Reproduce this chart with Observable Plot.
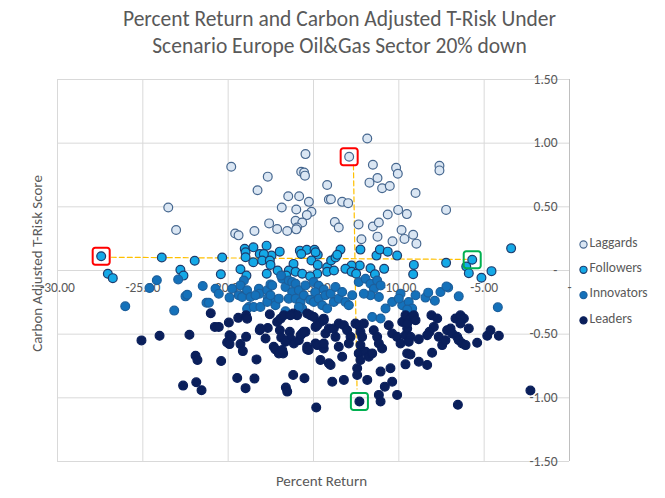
<!DOCTYPE html>
<html><head><meta charset="utf-8">
<script src="https://cdn.jsdelivr.net/npm/d3@7"></script>
<script src="https://cdn.jsdelivr.net/npm/@observablehq/plot@0.6"></script>
<style>html,body{margin:0;padding:0;background:#fff}#chart{width:665px;height:498px}</style>
</head><body><div id="chart"></div>
<script>
const titleLines = ["Percent Return and Carbon Adjusted T-Risk Under", "Scenario Europe Oil&Gas Sector 20% down"];
const xTitle = "Percent Return";
const yTitle = "Carbon Adjusted T-Risk Score";
const categories = ["Laggards", "Followers", "Innovators", "Leaders"];
const xTicks = [-30, -25, -20, -15, -10, -5, 0];
const yTicks = [-1.5, -1, -0.5, 0, 0.5, 1, 1.5];

const laggards = [
[-19.82,0.815],[-15.47,0.914],[-15.72,0.775],[-15.55,0.77],[-15.5,0.745],[-17.68,0.737],[-18.28,0.63],[-16.48,0.583],[-15.84,0.583],[-14.2,0.672],[-14.1,0.557],[-16.86,0.495],[-16.01,0.479],[-15.27,0.539],[-15.12,0.461],[-15.39,0.435],[-16.05,0.39],[-15.66,0.377],[-15.96,0.338],[-16.01,0.323],[-17.6,0.37],[-17.13,0.326],[-16.54,0.31],[-18.46,0.31],[-19.59,0.291],[-19.39,0.276],[-23.51,0.495],[-23.05,0.318],
[-11.85,1.037],[-12.91,0.893],[-11.52,0.83],[-10.16,0.807],[-10.06,0.76],[-11.25,0.727],[-11.72,0.69],[-10.98,0.646],[-10.53,0.664],[-13.98,0.56],[-13.32,0.539],[-12.97,0.529],[-10.65,0.44],[-10.04,0.476],[-9.53,0.443],[-13.75,0.38],[-13.52,0.338],[-12.36,0.362],[-11.52,0.346],[-11.17,0.377],[-9.84,0.318],[-11.25,0.266],[-12.19,0.245],[-10.37,0.229],[-9.67,0.248],[-7.62,0.823],[-7.62,0.786],[-9.02,0.609],[-7.23,0.476],[-9.16,0.281],[-8.97,0.211]
];
const followers = [
[-27.44,0.112],[-27.05,-0.026],[-26.76,-0.06],[-23.89,0.102],[-22.8,0.005],[-22.62,-0.04],[-21.96,0.076],[-20.35,0.102],[-20.43,-0.03],[-19.28,0.01],[-18.93,-0.04],[-19.03,0.17],[-18.98,0.143],[-18.98,0.104],[-18.52,0.182],[-17.75,0.195],[-18.15,0.13],[-17.46,0.117],[-16.98,0.148],[-17.91,0.13],[-18.53,0.065],[-18.01,0.078],[-17.56,0.078],[-17.52,0.044],[-17.74,-0.026],[-15.8,0.156],[-15.39,0.162],[-15.72,0.13],[-14.94,0.162],[-14.75,0.123],[-14.88,0.143],[-15.12,0.078],[-16.17,0.052],[-14.75,0.044],[-14.2,0.026],[-16.45,0.0],[-16.05,-0.01],[-15.66,-0.026],[-14.78,-0.026],[-14.2,-0.01],[-16.6,-0.04],[-15.2,-0.045],[-13.97,0.078],[-13.71,0.102],[-13.42,0.164],[-13.61,0.123],[-12.25,0.164],[-12.29,0.039],[-12.77,0.039],[-13.13,0.013],[-12.77,-0.01],[-13.8,0.0],[-11.31,0.117],[-11.11,0.164],[-10.65,0.148],[-10.1,0.117],[-11.66,0.018],[-10.86,0.013],[-9.12,0.044],[-9.16,-0.029],[-7.23,0.06],[-6.05,0.031],[-5.9,-0.021],[-5.7,0.084],[-4.57,-0.005],[-5.16,-0.057],[-3.42,0.174],[-12.5,-0.025],[-11.4,-0.03],[-17.1,0.0]
];
const innovators = [
[-24.18,-0.076],[-22.93,-0.07],[-24.61,-0.138],[-26.03,-0.281],[-23.16,-0.315],[-22.5,-0.203],[-22.4,-0.19],[-21.49,-0.122],[-20.74,-0.143],[-20.55,-0.182],[-19.92,-0.213],[-19.76,-0.143],[-21.27,-0.253],[-21.13,-0.253],[-19.38,-0.195],[-19.18,-0.208],[-19.08,-0.078],[-19.28,-0.117],[-18.79,-0.286],
[-18.89,-0.156],[-18.69,-0.208],[-18.2,-0.143],[-18.16,-0.182],[-17.71,-0.156],[-17.67,-0.221],[-17.23,-0.234],[-17.52,-0.109],[-16.64,-0.32],
[-18.4,-0.195],[-18.89,-0.3],[-18.5,-0.286],[-18.11,-0.286],[-17.71,-0.247],[-17.52,-0.195],[-17.42,-0.117],[-17.23,-0.273],[-17.03,-0.221],
[-16.83,-0.065],[-16.64,-0.13],[-16.45,-0.078],[-16.25,-0.091],[-16.05,-0.104],[-16.25,-0.169],[-16.45,-0.221],[-16.05,-0.221],[-15.86,-0.156],[-15.76,-0.247],[-15.57,-0.195],[-15.66,-0.299],[-15.47,-0.117],[-15.86,-0.286],
[-16.9,-0.04],[-15.0,-0.09],[-14.7,-0.12],[-14.4,-0.15],[-14.9,-0.17],[-15.2,-0.23],
[-14.98,-0.247],[-14.69,-0.221],[-14.49,-0.273],[-14.3,-0.195],[-14.2,-0.299],[-14.0,-0.182],[-13.81,-0.247],[-13.71,-0.13],[-13.52,-0.221],[-13.32,-0.169],[-13.13,-0.247],[-12.93,-0.273],[-12.73,-0.195],
[-12.35,-0.091],[-11.95,-0.065],[-11.66,-0.104],[-11.46,-0.143],[-11.27,-0.078],[-11.07,-0.117],[-11.66,-0.195],[-12.05,-0.182],[-11.17,-0.208],[-11.56,-0.365],[-11.07,-0.377],[-10.78,-0.299],[-10.39,-0.247],[-9.9,-0.182],[-9.8,-0.273],[-10.0,-0.221],[-9.42,-0.247],
[-9.02,-0.195],[-8.44,-0.213],[-8.28,-0.174],[-7.89,-0.237],[-7.56,-0.169],[-7.11,-0.133],[-6.49,-0.203],[-9.22,-0.299],[-9.51,-0.307],[-4.2,-0.289],[-7.21,-0.125]
];
const leaders = [
[-25.08,-0.549],[-24.02,-0.513],[-22.27,-0.505],[-21.91,-0.669],[-21.8,-0.703],[-22.64,-0.904],[-21.87,-0.878],[-21.56,-0.94],[-21.02,-0.336],[-20.78,-0.443],[-20.55,-0.443],[-20.41,-0.711],[-19.96,-0.409],[-19.92,-0.508],[-19.8,-0.521],[-20.06,-0.565],[-19.92,-0.578],[-19.41,-0.372],[-18.95,-0.352],[-18.89,-0.378],[-18.95,-0.521],[-19.28,-0.578],[-19.14,-0.633],[-19.47,-0.844],[-18.98,-0.924],[-18.46,-0.849],[-18.34,-0.698],[-18.15,-0.469],[-17.68,-0.451],[-17.81,-0.534],[-17.56,-0.344],[-17.13,-0.404],[-16.93,-0.378],[-16.74,-0.352],[-16.97,-0.469],[-16.89,-0.526],[-17.33,-0.599],[-17.23,-0.62],[-16.78,-0.651],[-16.39,-0.482],[-16.35,-0.534],[-16.15,-0.573],[-16.19,-0.82],[-15.53,-0.846],[-16.62,-0.919],[-16.54,-0.951],[-16.19,-0.338],[-15.96,-0.352],[-15.37,-0.338],[-15.18,-0.352],[-15.86,-0.547],[-15.66,-0.495],[-15.47,-0.482],[-15.37,-0.599],[-15.37,-0.62],[-14.88,-0.573],[-14.78,-0.586],[-14.4,-0.612],[-14.59,-0.703],[-14.1,-0.729],[-14.84,-1.076],[-14.98,-0.365],[-14.88,-0.443],[-14.59,-0.404],[-14.4,-0.378],[-14.3,-0.495],[-14.1,-0.456],
[-18.11,-0.456],[-17.03,-0.651],[-16.83,-0.625],[-16.64,-0.56],[-16.35,-0.352],[-15.76,-0.508],[-15.57,-0.482],[-15.28,-0.625],[-14.78,-0.43],[-14.4,-0.391],[-14.4,-0.573],[-14.0,-0.742],[-13.9,-0.873],[-13.22,-0.859],[-13.32,-0.677],[-13.52,-0.599],[-13.71,-0.521],[-13.81,-0.456],[-13.52,-0.417],[-13.22,-0.43],[-13.03,-0.469],[-12.83,-0.521],[-12.93,-0.573],
[-12.54,-0.417],[-12.35,-0.43],[-12.25,-0.482],[-12.05,-0.417],[-12.15,-0.521],[-12.25,-0.586],[-12.35,-0.651],[-12.25,-0.703],[-12.44,-0.768],[-12.44,-0.82],[-11.95,-0.638],[-11.76,-0.677],[-11.56,-0.651],[-11.85,-0.859],[-12.31,-1.029],
[-11.47,-0.469],[-11.27,-0.521],[-11.17,-0.573],[-10.98,-0.612],[-11.07,-0.794],[-11.17,-0.977],[-11.07,-1.029],[-10.49,-0.768],[-10.39,-0.873],[-10.1,-0.977],[-10.59,-0.43],[-10.39,-0.495],[-10.1,-0.521],[-9.9,-0.573],[-9.61,-0.508],[-9.51,-0.456],[-9.8,-0.404],[-10.82,-0.912],
[-9.61,-0.352],[-9.32,-0.377],[-9.12,-0.352],[-9.02,-0.391],[-9.51,-0.416],[-9.32,-0.521],[-9.42,-0.56],[-8.83,-0.539],[-9.51,-0.651],[-9.32,-0.659],[-9.61,-0.737],[-8.83,-0.716],[-8.34,-0.742],[-8.05,-0.646],
[-8.09,-0.352],[-7.75,-0.377],[-7.95,-0.443],[-8.2,-0.482],[-8.34,-0.508],[-7.66,-0.521],[-7.46,-0.586],[-7.27,-0.547],[-7.17,-0.469],[-6.97,-0.456],[-6.87,-0.495],[-6.68,-0.377],[-6.39,-0.352],[-6.19,-0.377],[-6.39,-0.416],[-5.9,-0.456],[-6.58,-0.521],[-6.49,-0.547],[-6.29,-0.573],[-6.09,-0.586],[-5.41,-0.568],[-4.82,-0.513],[-4.63,-0.469],[-4.14,-0.513],[-6.54,-1.055],[-2.29,-0.943]
];
// highlighted extreme points and the dashed guides joining them
const redMarked = [[-27.44,0.112],[-12.91,0.893]];
const greenMarked = [[-5.7,0.084],[-12.31,-1.029]];
const guideH = [[-26.85,0.104],[-6.05,0.087]];
const guideV = [[-12.66,0.83],[-12.45,-0.93]];

const seriesData = [laggards, followers, innovators, leaders];
const fills = ["#dae6f3", "#14a9e7", "#1471ba", "#0a1f5b"];
const strokes = ["#46678f", "#1d3b6c", "#1c5f9c", "#0a1f5b"];
const FONT = "Carlito, Calibri, Lato, 'Open Sans', sans-serif";
const GREY = "#595959";
const fmt = d => d === 0 ? "-" : d.toFixed(2);

const roundedSquare = {
  draw(ctx, size) {
    const s = Math.sqrt(size) / 2, r = 2.5;
    ctx.moveTo(-s + r, -s);
    ctx.lineTo(s - r, -s); ctx.arcTo(s, -s, s, -s + r, r);
    ctx.lineTo(s, s - r); ctx.arcTo(s, s, s - r, s, r);
    ctx.lineTo(-s + r, s); ctx.arcTo(-s, s, -s, s - r, r);
    ctx.lineTo(-s, -s + r); ctx.arcTo(-s, -s, -s + r, -s, r);
    ctx.closePath();
  }
};

const marks = [
  Plot.ruleX(xTicks, {stroke: "#d9d9d9", strokeWidth: 1}),
  Plot.ruleY(yTicks, {stroke: "#d9d9d9", strokeWidth: 1}),
  Plot.ruleX([0], {stroke: "#bfbfbf", strokeWidth: 1}),
  Plot.text(xTicks, {x: d => d, y: 0, text: fmt, dy: 17, fill: GREY, fontSize: 13.5, textAnchor: "middle"}),
  Plot.text(yTicks, {x: 0, y: d => d, text: fmt, dx: -12, fill: GREY, fontSize: 13.5, textAnchor: "end"}),
  Plot.line(guideH, {x: d => d[0], y: d => d[1], stroke: "#ffc000", strokeWidth: 1.2, strokeDasharray: "5,3"}),
  Plot.line(guideV, {x: d => d[0], y: d => d[1], stroke: "#ffc000", strokeWidth: 1.2, strokeDasharray: "5,3"}),
];
seriesData.forEach((arr, i) => {
  marks.push(Plot.dot(arr, {x: d => d[0], y: d => d[1], r: 4.4, fill: fills[i], stroke: strokes[i], strokeWidth: 1.2}));
});
marks.push(
  Plot.dot(redMarked, {x: d => d[0], y: d => d[1], symbol: roundedSquare, r: 9.6, fill: "none", stroke: "#ff0000", strokeWidth: 2}),
  Plot.dot(greenMarked, {x: d => d[0], y: d => d[1], symbol: roundedSquare, r: 9.6, fill: "none", stroke: "#00b050", strokeWidth: 2}),
  Plot.text([titleLines[0]], {frameAnchor: "top-left", dx: 282, dy: -60, text: d => d, fontSize: 21.5, fill: GREY, textAnchor: "middle", lineAnchor: "middle"}),
  Plot.text([titleLines[1]], {frameAnchor: "top-left", dx: 282, dy: -33, text: d => d, fontSize: 21.5, fill: GREY, textAnchor: "middle", lineAnchor: "middle"}),
  Plot.text([xTitle], {frameAnchor: "bottom-left", dx: 264, dy: 20, text: d => d, fontSize: 15, fill: GREY, textAnchor: "middle", lineAnchor: "middle"}),
  Plot.text([yTitle], {frameAnchor: "top-left", dx: -20, dy: 184, rotate: -90, text: d => d, fontSize: 15, fill: GREY, textAnchor: "middle", lineAnchor: "middle"})
);
categories.forEach((c, i) => {
  marks.push(
    Plot.dot([c], {frameAnchor: "top-right", dx: 14, dy: 165 + i * 25.3, r: 3.6, fill: fills[i], stroke: strokes[i], strokeWidth: 1.1}),
    Plot.text([c], {frameAnchor: "top-right", dx: 20, dy: 163 + i * 25.3, text: d => d, fontSize: 13.5, fill: GREY, textAnchor: "start", lineAnchor: "middle"})
  );
});

const chart = Plot.plot({
  width: 665, height: 498,
  marginLeft: 57, marginRight: 96, marginTop: 79, marginBottom: 37,
  x: {domain: [-30, 0], axis: null},
  y: {domain: [-1.5, 1.5], axis: null},
  style: {fontFamily: FONT, background: "#fff", overflow: "visible"},
  marks
});
document.getElementById("chart").appendChild(chart);
</script></body></html>
